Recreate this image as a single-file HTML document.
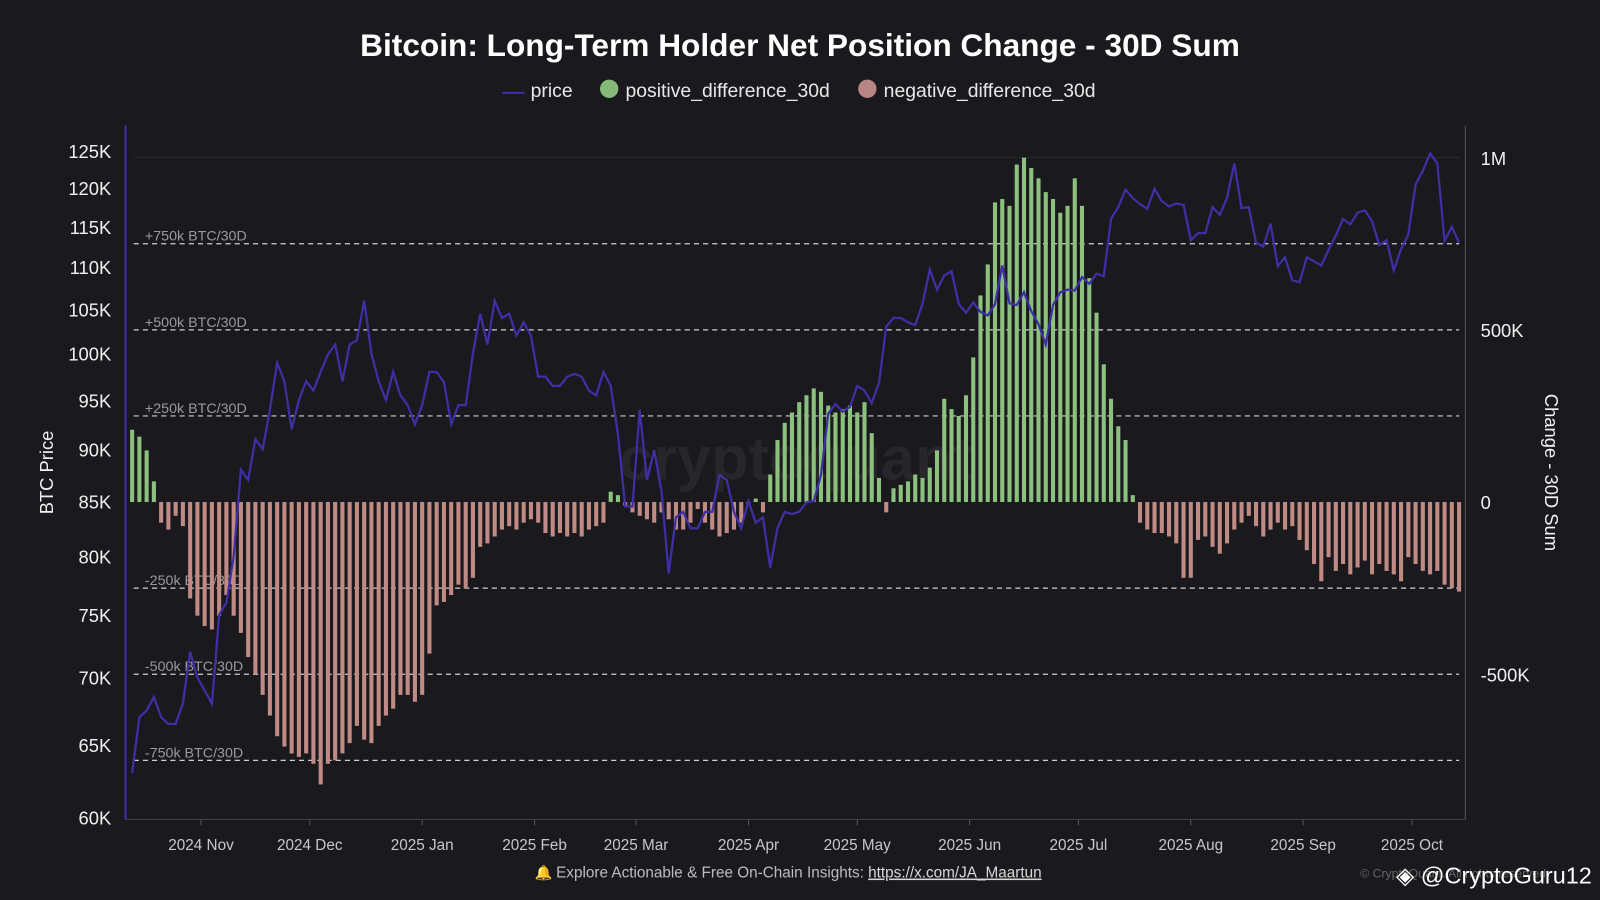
<!DOCTYPE html>
<html><head><meta charset="utf-8"><style>
html,body{margin:0;padding:0;background:#1a1a1e;}
svg{display:block;font-family:"Liberation Sans",sans-serif;}
</style></head><body>
<svg id="chart" width="1600" height="900" viewBox="0 0 1568 882" preserveAspectRatio="none">
<rect x="0" y="0" width="1568" height="882" fill="#1a1a1e"/>
<text x="784" y="55" text-anchor="middle" fill="#fff" font-size="31" font-weight="bold">Bitcoin: Long-Term Holder Net Position Change - 30D Sum</text>
<g font-size="19" fill="#e8e8e8">
<g><line x1="492" y1="91" x2="514" y2="91" stroke="#3f2fa5" stroke-width="2"/><text x="520" y="95">price</text></g>
<g><circle cx="597" cy="87" r="9" fill="#86b878"/><text x="613" y="95">positive_difference_30d</text></g>
<g><circle cx="850" cy="87" r="9" fill="#b88585"/><text x="866" y="95">negative_difference_30d</text></g>
</g>
<text x="780" y="470" text-anchor="middle" fill="#26262b" font-size="60" font-weight="bold">cryptoquant</text>
<g id="grid"></g>
<g id="bars"></g>
<path id="priceLine" fill="none" stroke="#3f2fa5" stroke-width="2.2"/>
<line x1="123" y1="123" x2="123" y2="803" stroke="#3f2fa5" stroke-width="2"/>
<line x1="1436" y1="123" x2="1436" y2="803" stroke="#555" stroke-width="1"/>
<line x1="123" y1="803" x2="1436" y2="803" stroke="#444" stroke-width="1"/>
<g id="leftTicks" font-size="18" fill="#f0f0f0"></g>
<g id="rightTicks" font-size="18" fill="#f0f0f0"></g>
<g id="xTicks" font-size="15" fill="#c8c8c8"></g>
<text transform="translate(52,463) rotate(-90)" text-anchor="middle" fill="#f0f0f0" font-size="18">BTC Price</text>
<text transform="translate(1514,463) rotate(90)" text-anchor="middle" fill="#f0f0f0" font-size="18">Change - 30D Sum</text>
<text x="524" y="860" fill="#f2b400" font-size="14">🔔</text>
<text x="545" y="860" fill="#bdbdbd" font-size="15">Explore Actionable &amp; Free On-Chain Insights: <tspan text-decoration="underline" fill="#d8d8d8">https://x.com/JA_Maartun</tspan></text>
<text x="1333" y="860" fill="#666" font-size="12">© CryptoQuant. All rights reserved</text>
<text x="1560" y="866" text-anchor="end" fill="#fff" font-size="23">◈ @CryptoGuru12</text>
</svg>
<script>
const startDate = "2024-10-13";
const price = [63,67,67.5,68.5,67,66.5,66.5,68,72,70,
69,68,75,76,80,88,87,91,90,94,99,97,92,95,97,
96,98,99.9,101,97,101,101.5,106,100,97,95,98,95.5,94.5,92.5,
94.5,98,98,96.9,92.5,94.5,94.5,100,104.5,101,106,104,104.5,102,103.5,102,
97.5,97.5,96.5,96.5,97.5,97.8,97.5,96,95.5,98,96.5,91.5,84.5,84.5,
94,87,89.9,86,78.5,83.5,84,82.5,82.5,84,84,87.5,87,84,82.5,
85,83,83.5,79,82.5,84,83.8,84,84.9,85,87.5,93.6,94.6,93.8,94.3,
96.5,96,94.7,96.8,103,104,104,103.5,103.2,105.6,109.7,107.3,109,109.5,105.6,104.6,
105.8,104.7,104.3,105.6,110.2,105.7,105.5,107,104.8,103.3,101,105.5,107,107.3,107.2,
108.8,108,109.2,108.9,116,117.5,119.8,118.7,117.9,117.3,119.9,118.3,117.6,118,117.8,
113.3,114.2,114.2,117.5,116.5,118.7,123.3,117.4,117.5,113,112.5,115.4,110.1,111.2,108.4,108.2,
111.2,110.7,110.2,112.1,113.9,116,115.3,116.8,117.1,115.7,112.7,113.3,109.6,112.2,114,
120.5,122.3,124.7,123.3,113.2,115,113];
const change = [210,190,150,60,-60,-80,-40,-70,-280,-330,-360,-370,-330,-270,-330,-380,-450,-500,-560,-620,
-680,-710,-730,-740,-730,-760,-820,-760,-750,-730,-700,-650,-690,-700,-650,-620,-600,-560,-560,-580,
-560,-440,-300,-290,-270,-240,-250,-220,-130,-120,-100,-80,-70,-80,-60,-50,-60,-90,-100,-90,
-100,-90,-100,-80,-70,-60,30,20,-10,-30,-40,-50,-60,-30,-50,-80,-80,-60,-20,-60,
-80,-100,-90,-80,-60,-10,10,-30,80,180,230,260,290,310,330,320,280,260,270,280,
260,290,200,70,-30,40,50,60,80,70,100,150,300,270,250,310,420,600,690,870,
880,860,980,1000,970,940,900,880,840,860,940,860,650,550,400,300,220,180,20,-60,
-80,-90,-90,-100,-120,-220,-220,-110,-100,-130,-150,-120,-80,-60,-40,-70,-100,-80,-60,-80,
-70,-110,-140,-180,-230,-160,-200,-180,-210,-190,-170,-210,-180,-200,-210,-230,-160,-180,-200,-210,
-200,-240,-250,-260];
const priceTicks = [60,65,70,75,80,85,90,95,100,105,110,115,120,125];
const changeTicks = [1000,500,0,-500];
const refLevels = [750,500,250,-250,-500,-750];
const refLabels = ["+750k BTC/30D","+500k BTC/30D","+250k BTC/30D","-250k BTC/30D","-500k BTC/30D","-750k BTC/30D"];
const monthLabels = ["2024 Nov","2024 Dec","2025 Jan","2025 Feb","2025 Mar","2025 Apr","2025 May","2025 Jun","2025 Jul","2025 Aug","2025 Sep","2025 Oct"];
const monthDates = ["2024-11-01","2024-12-01","2025-01-01","2025-02-01","2025-03-01","2025-04-01","2025-05-01","2025-06-01","2025-07-01","2025-08-01","2025-09-01","2025-10-01"];

const NS="http://www.w3.org/2000/svg";
const DAY=86400000, t0=Date.parse("2024-11-01");
function xDate(ms){return 197+(ms-t0)/DAY*3.553;}
function xIdx(i){return xDate(Date.parse(startDate)+i*2*DAY);}
function yPrice(v){return 801-Math.log(v/60)/Math.log(125/60)*653;}
function yChange(v){return 492-v*0.3375;}
function mk(tag,attrs,parent){const e=document.createElementNS(NS,tag);for(const k in attrs)e.setAttribute(k,attrs[k]);parent.appendChild(e);return e;}

const grid=document.getElementById('grid');
refLevels.forEach((v,i)=>{
  const l=mk('line',{x1:131,x2:1430,y1:yChange(v),y2:yChange(v),stroke:'#d0d0d0','stroke-width':1.2,'stroke-dasharray':'5,4'},grid);
  
  
  const t=mk('text',{x:142,y:yChange(v)-3,fill:'#9a9a9a','font-size':14},grid);
  t.textContent=refLabels[i];
  
  
});
mk('line',{x1:131,x2:1430,y1:yChange(1000),y2:yChange(1000),stroke:'#2a2a30','stroke-width':1},grid);

const bars=document.getElementById('bars');
change.forEach((v,i)=>{
  const x=xIdx(i), y0=yChange(0), y1=yChange(v);
  const r=mk('rect',{x:x-2,y:Math.min(y0,y1),width:4,height:Math.abs(y1-y0),fill:v>=0?'#8cc07e':'#c08a85'},bars);
  
  
});

let d='';
price.forEach((v,i)=>{d+=(i?'L':'M')+xIdx(i).toFixed(1)+','+yPrice(v).toFixed(1);});
document.getElementById('priceLine').setAttribute('d',d);

const lt=document.getElementById('leftTicks');
priceTicks.forEach(v=>{
  const t=mk('text',{x:109,y:yPrice(v)+7,'text-anchor':'end'},lt);
  t.textContent=v+'K';
  
  
});
const rt=document.getElementById('rightTicks');
changeTicks.forEach(v=>{
  const t=mk('text',{x:1451,y:yChange(v)+7},rt);
  t.textContent=v===0?'0':(Math.abs(v)>=1000?(v/1000)+'M':v+'K');
  
  
});
const xt=document.getElementById('xTicks');
monthLabels.forEach((m,i)=>{
  const x=xDate(Date.parse(monthDates[i]));
  mk('line',{x1:x,x2:x,y1:803,y2:809,stroke:'#555'},xt);
  const t=mk('text',{x:x,y:833,'text-anchor':'middle'},xt);
  t.textContent=m;
  
  
});
</script>
</body></html>
